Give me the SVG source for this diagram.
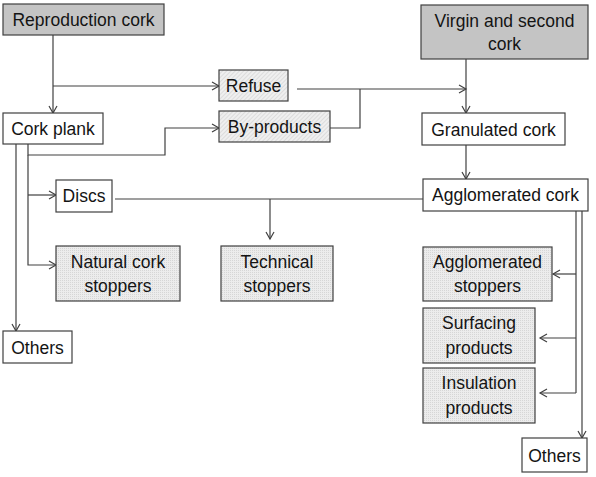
<svg xmlns="http://www.w3.org/2000/svg" width="596" height="477" viewBox="0 0 596 477">
<defs>
<style>
.box{stroke:#404040;stroke-width:1.2}
.gray{fill:#c4c4c4}
.white{fill:#ffffff}
.hatch{fill:url(#hatch)}
.dots{fill:url(#dots)}
text{font-family:"Liberation Sans",Arial,sans-serif;font-size:17.5px;fill:#141414;text-anchor:middle}
.conn path{fill:none;stroke:#404040;stroke-width:1.2}
</style>
<pattern id="hatch" width="3" height="3" patternUnits="userSpaceOnUse" patternTransform="rotate(45)">
<rect width="3" height="3" fill="#efefef"/>
<line x1="0" y1="0" x2="0" y2="3" stroke="#c9c9c9" stroke-width="1"/>
</pattern>
<pattern id="dots" width="2" height="2" patternUnits="userSpaceOnUse">
<rect width="2" height="2" fill="#ececec"/>
<rect width="1" height="1" fill="#d6d6d6"/>
</pattern>
<marker id="arr" markerWidth="10" markerHeight="10" refX="8" refY="5" orient="auto" markerUnits="userSpaceOnUse">
<path d="M1,1 L8,5 L1,9" fill="none" stroke="#404040" stroke-width="1.2"/>
</marker>
</defs>
<rect width="596" height="477" fill="#ffffff"/>

<g class="conn" id="connectors">
<path d="M53,35 V113" marker-end="url(#arr)"/>
<path d="M53,86 H219" marker-end="url(#arr)"/>
<path d="M297,89 H466" marker-end="url(#arr)"/>
<path d="M330,128 H360 V89"/>
<path d="M466,59 V113" marker-end="url(#arr)"/>
<path d="M28,144 V155 H165 V128 H219" marker-end="url(#arr)"/>
<path d="M28,155 V265 H56" marker-end="url(#arr)"/>
<path d="M28,195 H56" marker-end="url(#arr)"/>
<path d="M16,144 V331" marker-end="url(#arr)"/>
<path d="M115,199 H423"/>
<path d="M270,199 V239" marker-end="url(#arr)"/>
<path d="M466,145 V179" marker-end="url(#arr)"/>
<path d="M576,211 V393"/>
<path d="M576,274 H553" marker-end="url(#arr)"/>
<path d="M576,338 H540" marker-end="url(#arr)"/>
<path d="M576,393 H540" marker-end="url(#arr)"/>
<path d="M582,211 V438" marker-end="url(#arr)"/>
</g>

<g id="reproduction-cork"><rect class="box gray" x="3" y="4" width="161" height="31"/><text x="83.5" y="26">Reproduction cork</text></g>
<g id="virgin-cork"><rect class="box gray" x="421" y="5" width="167" height="54"/><text x="504.5" y="27">Virgin and second</text><text x="504.5" y="50">cork</text></g>
<g id="refuse"><rect class="box hatch" x="219" y="70" width="69" height="31"/><text x="253.5" y="92">Refuse</text></g>
<g id="by-products"><rect class="box hatch" x="219" y="111" width="111" height="31"/><text x="274.5" y="133">By-products</text></g>
<g id="cork-plank"><rect class="box white" x="3" y="113" width="100" height="31"/><text x="53" y="135">Cork plank</text></g>
<g id="granulated-cork"><rect class="box white" x="422" y="113" width="143" height="32"/><text x="493.5" y="136">Granulated cork</text></g>
<g id="discs"><rect class="box white" x="56" y="180" width="56" height="32"/><text x="84" y="202">Discs</text></g>
<g id="agglomerated-cork"><rect class="box white" x="423" y="179" width="165" height="32"/><text x="505.5" y="201">Agglomerated cork</text></g>
<g id="natural-cork-stoppers"><rect class="box dots" x="56" y="246" width="124" height="55"/><text x="118" y="268">Natural cork</text><text x="118" y="292">stoppers</text></g>
<g id="technical-stoppers"><rect class="box dots" x="221" y="246" width="112" height="55"/><text x="277" y="268">Technical</text><text x="277" y="292">stoppers</text></g>
<g id="others-left"><rect class="box white" x="3" y="331" width="69" height="32"/><text x="37.5" y="354">Others</text></g>
<g id="agglomerated-stoppers"><rect class="box dots" x="423" y="247" width="129" height="54"/><text x="487.5" y="268">Agglomerated</text><text x="487.5" y="292">stoppers</text></g>
<g id="surfacing-products"><rect class="box dots" x="423" y="308" width="112" height="55"/><text x="479" y="329">Surfacing</text><text x="479" y="354">products</text></g>
<g id="insulation-products"><rect class="box dots" x="423" y="368" width="112" height="55"/><text x="479" y="389">Insulation</text><text x="479" y="414">products</text></g>
<g id="others-right"><rect class="box white" x="522" y="438" width="65" height="34"/><text x="554.5" y="462">Others</text></g>
</svg>
